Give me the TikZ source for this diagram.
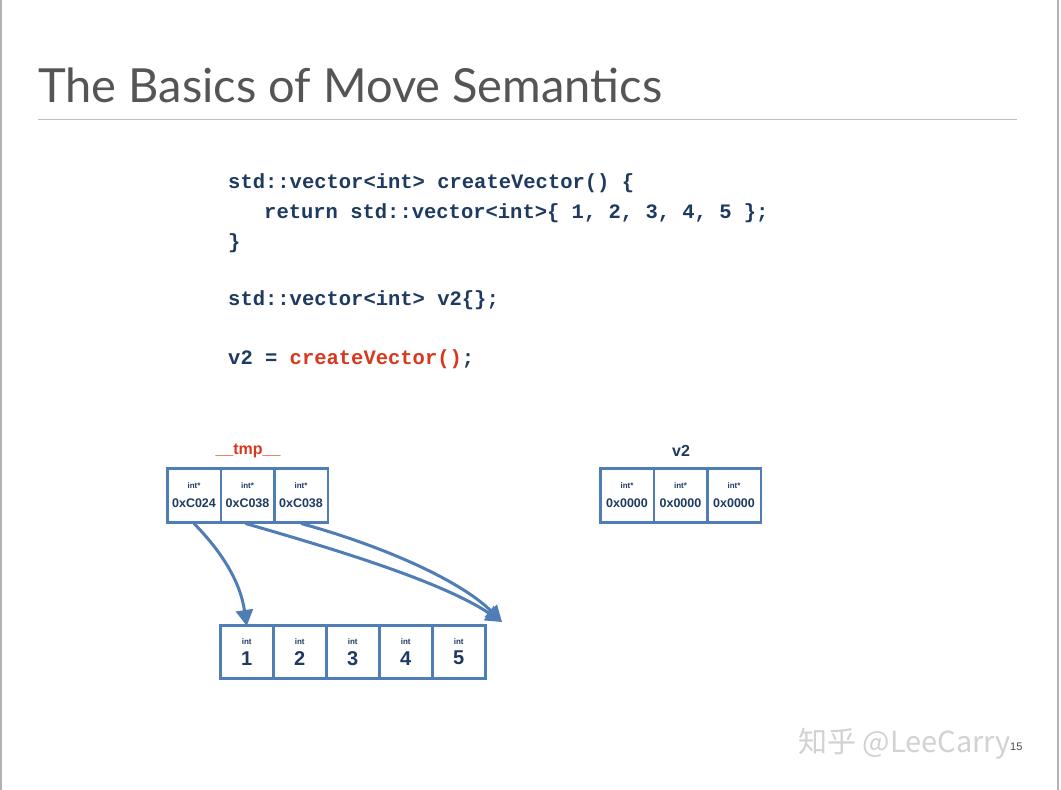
\documentclass[tikz,border=0pt]{standalone}
\usepackage{fontspec}
\setmainfont{Liberation Sans}
\newfontfamily\codefont{Liberation Mono}
\newfontfamily\titlefont{Lato}
\newfontfamily\cjkf{Noto Sans CJK SC}
\usetikzlibrary{arrows.meta}
\definecolor{codeblue}{HTML}{1F3A60}
\definecolor{boxblue}{HTML}{4F7DB5}
\definecolor{tred}{HTML}{D9381E}
\definecolor{titlegray}{HTML}{555555}
\tikzset{
  cell/.style={draw=boxblue,line width=2.5pt,minimum width=53.5pt,minimum height=54pt,inner sep=0pt,anchor=north west},
  vcell/.style={draw=boxblue,line width=2.5pt,minimum width=53pt,minimum height=53pt,inner sep=0pt,anchor=north west},
  code/.style={anchor=base west,inner sep=0pt,font=\codefont\bfseries\fontsize{20.5}{24}\selectfont,text=codeblue},
  arr/.style={draw=boxblue,line width=3pt,-{Triangle[length=16pt,width=17pt]}}
}
\newcommand{\ptrcell}[2]{\shortstack{{\fontsize{8}{9}\selectfont\bfseries int*}\\[7pt]{\fontsize{12.5}{13}\selectfont\bfseries #2}}}
\begin{document}
\begin{tikzpicture}[x=1pt,y=-1pt]
\useasboundingbox (0,0) rectangle (1061,790);
\fill[white] (0,0) rectangle (1061,790);
\draw[gray!60,line width=2pt] (1,0) -- (1,790);
\draw[gray!60,line width=2pt] (1058,0) -- (1058,790);
\node[anchor=base west,inner sep=0pt,text=titlegray,font=\titlefont\fontsize{47}{50}\selectfont] (title) at (38,102) {The Basics of Move Semantics};
\draw[gray!50,line width=1pt] (38,119) -- (1017,119);
\node[code] (c1) at (228,188) {std::vector<int> createVector() \{};
\node[code] (c2) at (264,218) {return std::vector<int>\{ 1, 2, 3, 4, 5 \};};
\node[code] (c3) at (228,248) {\}};
\node[code] (c4) at (228,305) {std::vector<int> v2\{\};};
\node[code] (c5) at (228,364) {v2 = \textcolor{tred}{createVector()};};
% tmp
\foreach \i/\v in {0/0xC024,1/0xC038,2/0xC038}{
  \node[cell,text=codeblue] (t\i) at (166+53.5*\i,467) {\ptrcell{}{\v}};
}
\node[font=\bfseries\fontsize{16}{18}\selectfont,text=tred] (tl) at (248,451) {\_\_tmp\_\_};
% v2
\foreach \i in {0,1,2}{
  \node[cell,text=codeblue] (w\i) at (599+53.5*\i,467) {\ptrcell{}{0x0000}};
}
\node[font=\bfseries\fontsize{16}{18}\selectfont,text=codeblue] (vl) at (681,451) {v2};
% ints
\foreach \i in {1,...,5}{
  \node[vcell,text=codeblue] (n\i) at (219+53*\i-53,624) {\shortstack{{\fontsize{8}{9}\selectfont\bfseries int}\\[4pt]{\fontsize{20}{21}\selectfont\bfseries \i}}};
}
\coordinate (end5) at (502,622);
\draw[arr] (t0.south) .. controls (220,550) and (240,580) .. ([yshift=-2pt]n1.north);
\draw[arr] ([xshift=-2pt]t1.south) .. controls (320,545) and (440,580) .. (end5);
\draw[arr] ([xshift=0pt]t2.south) .. controls (380,545) and (460,580) .. (end5);
\node[anchor=base west,inner sep=0pt,text=gray!35,font=\cjkf\fontsize{29}{30}\selectfont] (wm) at (798,752) {知乎 @LeeCarry};
\node[anchor=base west,inner sep=0pt,text=black!70,font=\fontsize{11}{12}\selectfont] (pg) at (1010,750) {15};
\end{tikzpicture}
\end{document}
